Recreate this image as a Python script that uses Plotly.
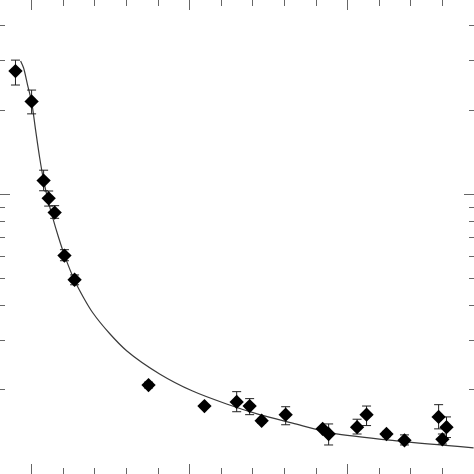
import plotly.graph_objects as go

# measured points (x, y on log scale) with asymmetric error bars
pt_x = [-0.51, 0.0, 0.38, 0.54, 0.73, 1.04, 1.36, 3.70, 5.47, 6.49, 6.90,
        7.28, 8.04, 9.21, 9.40, 10.30, 10.60, 11.23, 11.80, 12.88, 13.13, 13.00]
pt_y = [27.6, 21.5, 11.2, 9.68, 8.61, 6.04, 4.95, 2.08, 1.75, 1.81, 1.75,
        1.55, 1.63, 1.45, 1.39, 1.47, 1.63, 1.39, 1.32, 1.60, 1.47, 1.33]
err_up = [2.6, 2.1, 1.0, 0.6, 0.5, 0.3, 0.2, 0.05, 0.0, 0.16, 0.11,
          0.03, 0.11, 0.0, 0.12, 0.10, 0.12, 0.03, 0.06, 0.17, 0.13, 0.06]
err_dn = [3.0, 2.1, 0.9, 0.6, 0.4, 0.25, 0.2, 0.05, 0.0, 0.14, 0.12,
          0.03, 0.13, 0.0, 0.12, 0.08, 0.14, 0.03, 0.05, 0.15, 0.12, 0.05]

# fitted curve
fit_x = [-0.348, -0.253, -0.127, 0.0, 0.127, 0.253, 0.380, 0.506, 0.665, 0.854,
         1.044, 1.361, 1.646, 1.930, 2.468, 3.006, 4.051, 5.095, 6.171, 7.215,
         8.259, 9.525, 11.646, 13.987]
fit_y = [30.0, 28.3, 24.6, 21.4, 16.96, 13.57, 11.22, 9.68, 8.27, 7.01,
         6.04, 4.92, 4.27, 3.78, 3.18, 2.76, 2.28, 1.98, 1.78, 1.63,
         1.52, 1.40, 1.31, 1.24]

y_major = [10]
y_minor = [2, 3, 4, 5, 6, 7, 8, 9, 20, 30, 40]

fig = go.Figure()
fig.add_trace(go.Scatter(x=fit_x, y=fit_y, mode="lines",
                         line=dict(color="#3a3a3a", width=1.2, shape="spline", smoothing=0.8)))
fig.add_trace(go.Scatter(
    x=pt_x, y=pt_y, mode="markers",
    marker=dict(symbol="diamond", size=11, color="black"),
    error_y=dict(type="data", symmetric=False, array=err_up, arrayminus=err_dn,
                 color="#222222", thickness=1, width=4.5)))

tick_col = "#666666"
fig.update_layout(
    width=474, height=474, margin=dict(l=0, r=0, t=0, b=0),
    paper_bgcolor="white", plot_bgcolor="white", showlegend=False,
    xaxis=dict(range=[-1.0, 14.0], tickmode="linear", tick0=0, dtick=5,
               ticks="inside", ticklen=10, tickwidth=1, tickcolor=tick_col,
               showticklabels=False, showgrid=False, zeroline=False,
               showline=False, mirror="ticks",
               minor=dict(ticks="inside", ticklen=6, tickwidth=1, tickcolor=tick_col,
                          tickmode="linear", tick0=0, dtick=1, showgrid=False)),
    yaxis=dict(type="log", range=[0.0, 1.695], tickmode="array", tickvals=y_major,
               ticks="inside", ticklen=10, tickwidth=1, tickcolor=tick_col,
               showticklabels=False, showgrid=False, zeroline=False,
               showline=False, mirror="ticks",
               minor=dict(ticks="inside", ticklen=5, tickwidth=1, tickcolor=tick_col,
                          tickmode="array", tickvals=y_minor, showgrid=False)),
)

fig.write_html("out.html", config={"displayModeBar": False},
               post_script="document.body.style.margin='0';document.body.style.overflow='hidden';")
